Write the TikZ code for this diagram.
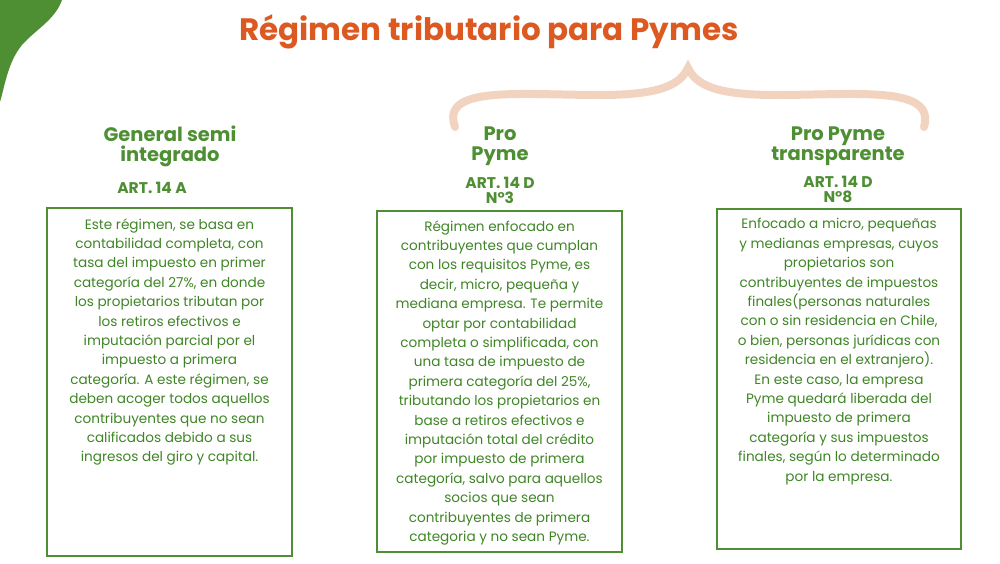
\documentclass[tikz,border=0pt]{standalone}
\usepackage{fontspec}
\setmainfont{Poppins}
\definecolor{grn}{HTML}{4E8F33}
\definecolor{txt}{HTML}{3F8526}
\definecolor{org}{HTML}{DC5A22}
\definecolor{peach}{HTML}{F2D3C0}
\begin{document}
\begin{tikzpicture}[x=1pt,y=-1pt,
  box/.style={draw=grn,line width=1.3pt},
  body/.style={text=txt,align=center,font=\fontsize{13.6}{19.4}\selectfont},
  head/.style={text=grn,align=center,font=\bfseries\fontsize{19.5}{20}\selectfont},
  art/.style={text=grn,align=center,font=\bfseries\fontsize{15.5}{15}\selectfont}]
\useasboundingbox (0,0) rectangle (1000,563);
\fill[grn] (0,0) -- (62,0) .. controls (55,20) and (35,30) .. (22,45) .. controls (8,62) and (5,85) .. (0,102) -- cycle;
\node[text=org,font=\bfseries\fontsize{31}{34}\selectfont] (title) at (489,32) {Régimen tributario para Pymes};
\draw[peach,line width=8pt,line cap=round] (455,127) .. controls (440,85) and (520,95) .. (600,95) .. controls (660,95) and (680,85) .. (688,68) .. controls (696,85) and (716,95) .. (776,95) .. controls (856,95) and (936,85) .. (924,127);
\node[head] (h1) at (170,146) {General semi\\integrado};
\node[art] (a1) at (152,188) {ART. 14 A};
\node[head] (h2) at (500,146) {Pro\\Pyme};
\node[art] (a2) at (500,190) {ART. 14 D\\N°3};
\node[head] (h3) at (838,146) {Pro Pyme\\transparente};
\node[art] (a3) at (838,189) {ART. 14 D\\N°8};
\draw[box] (47,208) rectangle (292,556);
\draw[box] (377,211) rectangle (622,552);
\draw[box] (717,209) rectangle (961,549);
\node[body,anchor=north] (b1) at (169.5,215) {Este régimen, se basa en\\contabilidad completa, con\\tasa del impuesto en primer\\categoría del 27\%, en donde\\los propietarios tributan por\\los retiros efectivos e\\imputación parcial por el\\impuesto a primera\\categoría. A este régimen, se\\deben acoger todos aquellos\\contribuyentes que no sean\\calificados debido a sus\\ingresos del giro y capital.};
\node[body,anchor=north] (b2) at (499.5,217) {Régimen enfocado en\\contribuyentes que cumplan\\con los requisitos Pyme, es\\decir, micro, pequeña y\\mediana empresa. Te permite\\optar por contabilidad\\completa o simplificada, con\\una tasa de impuesto de\\primera categoría del 25\%,\\tributando los propietarios en\\base a retiros efectivos e\\imputación total del crédito\\por impuesto de primera\\categoría, salvo para aquellos\\socios que sean\\contribuyentes de primera\\categoria y no sean Pyme.};
\node[body,anchor=north] (b3) at (839,215) {Enfocado a micro, pequeñas\\y medianas empresas, cuyos\\propietarios son\\contribuyentes de impuestos\\finales(personas naturales\\con o sin residencia en Chile,\\o bien, personas jurídicas con\\residencia en el extranjero).\\En este caso, la empresa\\Pyme quedará liberada del\\impuesto de primera\\categoría y sus impuestos\\finales, según lo determinado\\por la empresa.};
\end{tikzpicture}
\end{document}
